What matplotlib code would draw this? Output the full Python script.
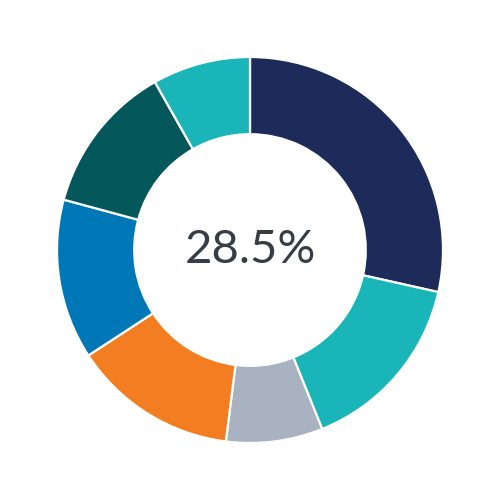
import matplotlib
matplotlib.use("Agg")
import matplotlib.pyplot as plt

labels = ["A", "B", "C", "D", "E", "F", "G"]
values = [28.5, 15.4, 8.1, 13.8, 13.4, 12.6, 8.2]
colors = ["#1c2b5a", "#1ab5b8", "#a8b2c1", "#f37d21", "#0077b6", "#04575a", "#1ab5b8"]
center_label = "28.5%"

fig = plt.figure(figsize=(5, 5), dpi=100)
ax = fig.add_axes([0, 0, 1, 1])
ax.pie(values, colors=colors, startangle=90, counterclock=False, radius=1.0,
       wedgeprops=dict(width=0.4, edgecolor="white", linewidth=1.6))
lim = 250 / 193
ax.set_xlim(-lim, lim)
ax.set_ylim(-lim, lim)
ax.set_aspect("equal")
ax.axis("off")
ax.text(0, 0.0, center_label, ha="center", va="center", fontsize=34,
        family=["Lato", "DejaVu Sans"], color="#363d45")
fig.savefig("out.png", dpi=100)
